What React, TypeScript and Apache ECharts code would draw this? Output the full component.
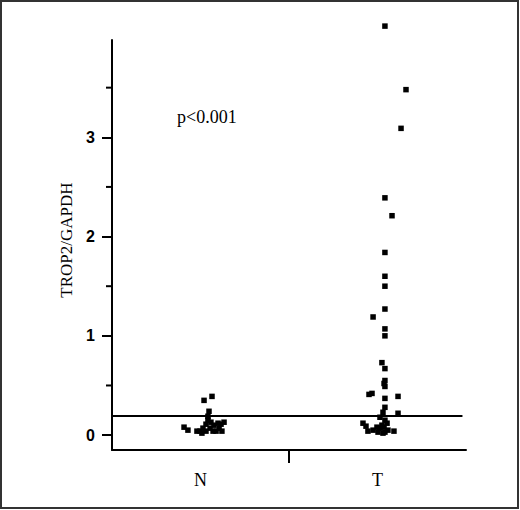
import React, { useEffect, useRef } from "react";
import * as echarts from "echarts";

// Group labels and p-value text
const groupNames = ["N", "T"];
const pValueText = "p<0.001";
const yAxisTitle = "TROP2/GAPDH";
const yMajorTicks = [0, 1, 2, 3];
const yMinorTicks = [0.5, 1.5, 2.5, 3.5];
const cutoff = 0.2;

// N group: TROP2/GAPDH ratios and their horizontal (jitter) positions
const nValues = [0.08, 0.05, 0.04, 0.07, 0.11, 0.15, 0.19, 0.24, 0.35, 0.39, 0.07, 0.04, 0.04, 0.04, 0.07, 0.11, 0.13, 0.12, 0.10, 0.04, 0.13, 0.02, 0.04];
const nPositions = [0.407, 0.429, 0.497, 0.514, 0.531, 0.542, 0.542, 0.548, 0.52, 0.565, 0.554, 0.571, 0.531, 0.588, 0.605, 0.616, 0.633, 0.599, 0.576, 0.621, 0.559, 0.508, 0.48];

// T group
const tValues = [4.12, 3.48, 3.09, 2.39, 2.21, 1.84, 1.6, 1.5, 1.27, 1.19, 1.07, 1.0, 0.73, 0.67, 0.55, 0.52, 0.49, 0.41, 0.42, 0.39, 0.37, 0.28, 0.23, 0.22, 0.18, 0.15, 0.12, 0.09, 0.04, 0.05, 0.08, 0.07, 0.08, 0.03, 0.12, 0.05, 0.04, 0.02, 0.03, 0.1];
const tPositions = [1.542, 1.661, 1.633, 1.542, 1.582, 1.542, 1.542, 1.542, 1.542, 1.475, 1.542, 1.542, 1.525, 1.542, 1.542, 1.537, 1.542, 1.452, 1.469, 1.616, 1.542, 1.542, 1.531, 1.616, 1.514, 1.542, 1.418, 1.435, 1.446, 1.475, 1.497, 1.514, 1.537, 1.542, 1.554, 1.559, 1.593, 1.531, 1.503, 1.525];

const SERIF = '"Liberation Serif", "Times New Roman", "DejaVu Serif", serif';
const SANS = '"Liberation Sans", Arial, "DejaVu Sans", sans-serif';

export default function App() {
  const ref = useRef<HTMLDivElement>(null);

  useEffect(() => {
    if (!ref.current) return;
    const chart = echarts.init(ref.current, undefined, { renderer: "svg" });
    const nData = nValues.map((v, i) => [nPositions[i], v]);
    const tData = tValues.map((v, i) => [tPositions[i], v]);
    const baseGraphics: any[] = [
      {
        type: "rect",
        shape: { x: 1, y: 1, width: 517, height: 507 },
        style: { fill: "none", stroke: "#333", lineWidth: 2 },
        silent: true,
      },
      {
        type: "text",
        x: 177,
        y: 117,
        style: { text: pValueText, fontFamily: SERIF, fontSize: 18, fill: "#000", verticalAlign: "middle", align: "left" },
      },
      {
        type: "text",
        x: 66,
        y: 240,
        rotation: Math.PI / 2,
        style: { text: yAxisTitle, fontFamily: SERIF, fontSize: 17, fill: "#000", align: "center", verticalAlign: "middle" },
      },
    ];
    chart.setOption({
      animation: false,
      backgroundColor: "#ffffff",
      grid: { left: 112, right: 54, top: 40, bottom: 60 },
      xAxis: {
        type: "value",
        min: 0,
        max: 2,
        splitLine: { show: false },
        axisLine: { show: true, onZero: false, lineStyle: { color: "#000", width: 2 } },
        axisTick: { show: true, customValues: [1], length: 13, lineStyle: { color: "#000", width: 2 } },
        axisLabel: {
          customValues: [0.5, 1.5],
          formatter: (v: number) => (v < 1 ? groupNames[0] : groupNames[1]),
          color: "#000",
          fontFamily: SERIF,
          fontSize: 18,
          margin: 21,
        },
      },
      yAxis: {
        type: "value",
        min: -0.15,
        max: 3.98,
        position: "left",
        splitLine: { show: false },
        axisLine: { show: true, onZero: false, lineStyle: { color: "#000", width: 2 } },
        axisTick: { show: true, customValues: yMajorTicks, length: 10, lineStyle: { color: "#000", width: 2 } },
        axisLabel: {
          customValues: yMajorTicks,
          color: "#000",
          fontFamily: SANS,
          fontWeight: "bold",
          fontSize: 16,
          margin: 17,
        },
      },
      graphic: baseGraphics,
      series: [
        {
          name: groupNames[0],
          type: "scatter",
          data: nData,
          symbol: "rect",
          symbolSize: 5.5,
          clip: false,
          itemStyle: { color: "#000", opacity: 1 },
          markLine: {
            silent: true,
            symbol: "none",
            label: { show: false },
            lineStyle: { color: "#000", width: 2, type: "solid" },
            data: [[{ coord: [0, cutoff] }, { coord: [1.98, cutoff] }]],
          },
        },
        {
          name: groupNames[1],
          type: "scatter",
          data: tData,
          symbol: "rect",
          symbolSize: 5.5,
          clip: false,
          itemStyle: { color: "#000", opacity: 1 },
        },
      ],
    });
    // minor ticks at half units, positioned through the axes' scales
    const axisX = chart.convertToPixel({ xAxisIndex: 0 }, 0) as number;
    const minorTicks = yMinorTicks.map((v) => {
      const py = chart.convertToPixel({ yAxisIndex: 0 }, v) as number;
      return {
        type: "line",
        silent: true,
        shape: { x1: axisX - 6, y1: py, x2: axisX, y2: py },
        style: { stroke: "#000", lineWidth: 2 },
      };
    });
    chart.setOption({ graphic: [...baseGraphics, ...minorTicks] });
    return () => chart.dispose();
  }, []);

  return <div ref={ref} style={{ position: "fixed", left: 0, top: 0, width: 520, height: 510 }} />;
}
